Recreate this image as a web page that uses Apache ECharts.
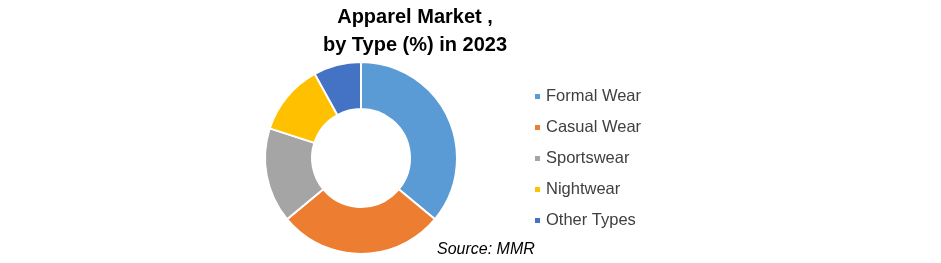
<!DOCTYPE html>
<html><head><meta charset="utf-8">
<script src="https://cdn.jsdelivr.net/npm/echarts@6/dist/echarts.min.js"></script>
<style>html,body{margin:0;padding:0;background:#fff}#c{width:941px;height:263px}</style>
</head><body><div id="c"></div>
<script>
const categories = ["Formal Wear", "Casual Wear", "Sportswear", "Nightwear", "Other Types"];
const values = [36, 28, 16, 12, 8];
const colors = ["#5B9BD5", "#ED7D31", "#A5A5A5", "#FFC000", "#4472C4"];
const titleText = "Apparel Market ,\nby Type (%) in 2023";
const sourceText = "Source: MMR";

const chart = echarts.init(document.getElementById('c'), null, {renderer: 'canvas'});
chart.setOption({
  animation: false,
  backgroundColor: '#fff',
  title: {
    text: titleText,
    left: 415, top: 3, textAlign: 'center', padding: 0,
    textStyle: {fontFamily: 'Liberation Sans', fontWeight: 'bold', fontSize: 20, lineHeight: 28, color: '#000'}
  },
  legend: {
    orient: 'vertical', left: 528, top: 83, padding: 5,
    icon: 'rect', itemWidth: 7, itemHeight: 7, itemGap: 14,
    data: categories,
    textStyle: {fontFamily: 'Liberation Sans', fontSize: 16.5, lineHeight: 17, color: '#404040', padding: [0,0,0,0]}
  },
  graphic: [{
    type: 'text', left: 437, top: 242,
    style: {text: sourceText, font: 'italic 16px "Liberation Sans"', fill: '#000'}
  }],
  series: [{
    type: 'pie',
    center: [361, 158],
    radius: [49, 96],
    startAngle: 90,
    clockwise: true,
    label: {show: false},
    labelLine: {show: false},
    itemStyle: {borderColor: '#fff', borderWidth: 2},
    data: categories.map((c, i) => ({name: c, value: values[i], itemStyle: {color: colors[i]}}))
  }]
});
</script></body></html>
